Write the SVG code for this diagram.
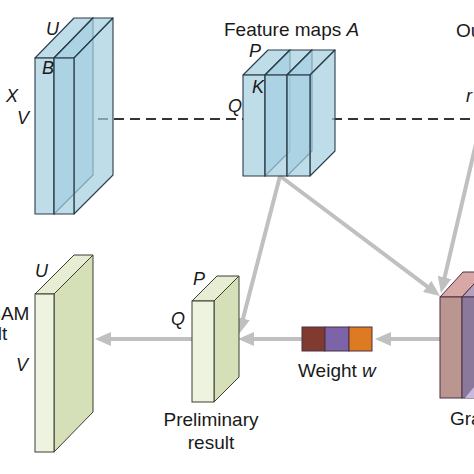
<svg xmlns="http://www.w3.org/2000/svg" width="474" height="474" viewBox="0 0 474 474">
<defs>
<marker id="ah" markerUnits="userSpaceOnUse" markerWidth="16" markerHeight="14" refX="4" refY="7" orient="auto">
<path d="M0,0 L16,7 L0,14 z" fill="#c0c0c0"/>
</marker>
<style>
.t{font-family:"Liberation Sans",Arial,sans-serif;font-size:19px;fill:#1a1a1a}
.i{font-family:"Liberation Sans",Arial,sans-serif;font-size:18px;font-style:italic;fill:#1a1a1a}
.blue{fill:#a3cfdf;fill-opacity:0.7;stroke:#2a3d48;stroke-width:1.1;stroke-linejoin:round}
.gf{fill:#eef3e0;stroke:#3a3f30;stroke-width:1}
.gs{fill:#d6e0b8;stroke:#3a3f30;stroke-width:1}
.gt{fill:#e6edd2;stroke:#3a3f30;stroke-width:1}
.arr{stroke:#c0c0c0;stroke-width:4;fill:none;marker-end:url(#ah)}
.dash{stroke:#333;stroke-width:2;stroke-dasharray:10 6;fill:none}
.dk{stroke:#4a3040;stroke-width:1}
</style>
</defs>
<rect width="474" height="474" fill="#fff"/>

<g id="connectors">
<line class="dash" x1="98" y1="119" x2="243" y2="119"/>
<line class="dash" x1="332" y1="119" x2="474" y2="119"/>
<line class="arr" x1="192" y1="339" x2="107" y2="339"/>
<line class="arr" x1="302" y1="339" x2="250" y2="339"/>
<line class="arr" x1="440" y1="339" x2="387" y2="339"/>
<line class="arr" x1="280" y1="176" x2="430.4" y2="288.8"/>
<line class="arr" x1="280" y1="176" x2="242" y2="322.4"/>
<line class="arr" x1="478" y1="135" x2="443.7" y2="281.3"/>
</g>

<g id="input-X">
<polygon class="blue" points="35,58 54,58 93,18 74,18"/>
<polygon class="blue" points="54,58 93,18 93,175 54,214"/>
<rect class="blue" x="35" y="58" width="19" height="156"/>
<polygon class="blue" points="54,58 74,58 113,18 93,18"/>
<polygon class="blue" points="74,58 113,18 113,175 74,214"/>
<rect class="blue" x="54" y="58" width="20" height="156"/>
<text class="i" x="46" y="35">U</text>
<text class="i" x="42" y="74">B</text>
<text class="i" x="6" y="102" font-size="20">X</text>
<text class="i" x="17" y="124">V</text>
</g>

<g id="feature-maps">
<text class="t" x="224" y="36">Feature maps <tspan font-style="italic">A</tspan></text>
<polygon class="blue" points="243,75 265,75 290,50 268,50"/>
<polygon class="blue" points="265,75 290,50 290,151 265,176"/>
<rect class="blue" x="243" y="75" width="22" height="101"/>
<polygon class="blue" points="265,75 287,75 312,50 290,50"/>
<polygon class="blue" points="287,75 312,50 312,151 287,176"/>
<rect class="blue" x="265" y="75" width="22" height="101"/>
<polygon class="blue" points="287,75 310,75 335,50 312,50"/>
<polygon class="blue" points="310,75 335,50 335,151 310,176"/>
<rect class="blue" x="287" y="75" width="23" height="101"/>
<text class="i" x="249" y="57">P</text>
<text class="i" x="252" y="93">K</text>
<text class="i" x="228" y="112">Q</text>
</g>

<g id="output-label">
<text class="t" x="456" y="37">Ou</text>
<text class="i" x="466" y="102">r</text>
</g>

<g id="gradcam-result">
<polygon class="gt" points="35,294 54,294 93,255 74,255"/>
<polygon class="gs" points="54,294 93,255 93,412 54,452"/>
<rect class="gf" x="35" y="294" width="19" height="158"/>
<text class="i" x="35" y="277">U</text>
<text class="i" x="16" y="371">V</text>
<text class="t" x="-16" y="320" text-anchor="middle">Grad-CAM</text>
<text class="t" x="-16" y="340" text-anchor="middle">result</text>
</g>

<g id="preliminary">
<polygon class="gt" points="192,301 214,301 239,276 217,276"/>
<polygon class="gs" points="214,301 239,276 239,377 214,402"/>
<rect class="gf" x="192" y="301" width="22" height="101"/>
<text class="i" x="193" y="285">P</text>
<text class="i" x="171" y="325">Q</text>
<text class="t" x="211" y="426" text-anchor="middle">Preliminary</text>
<text class="t" x="211" y="449" text-anchor="middle">result</text>
</g>

<g id="weight">
<rect class="dk" x="302" y="327" width="23" height="24" fill="#803a30"/>
<rect class="dk" x="325" y="327" width="24" height="24" fill="#7d63a8"/>
<rect class="dk" x="349" y="327" width="23" height="24" fill="#de7a22"/>
<text class="t" x="298" y="377">Weight <tspan font-style="italic">w</tspan></text>
</g>

<g id="gradients">
<polygon class="dk" points="440,297 462,297 485,272 463,272" fill="#d8a8a6"/>
<rect class="dk" x="440" y="297" width="22" height="101" fill="#bb9690"/>
<polygon class="dk" points="462,297 484,297 507,272 485,272" fill="#b49fbf"/>
<rect class="dk" x="462" y="297" width="22" height="101" fill="#8b799c"/>
<polygon points="465,398 474,387 474,398" fill="#c9b9e0"/>
<text class="t" x="450" y="425">Gra</text>
</g>
</svg>
